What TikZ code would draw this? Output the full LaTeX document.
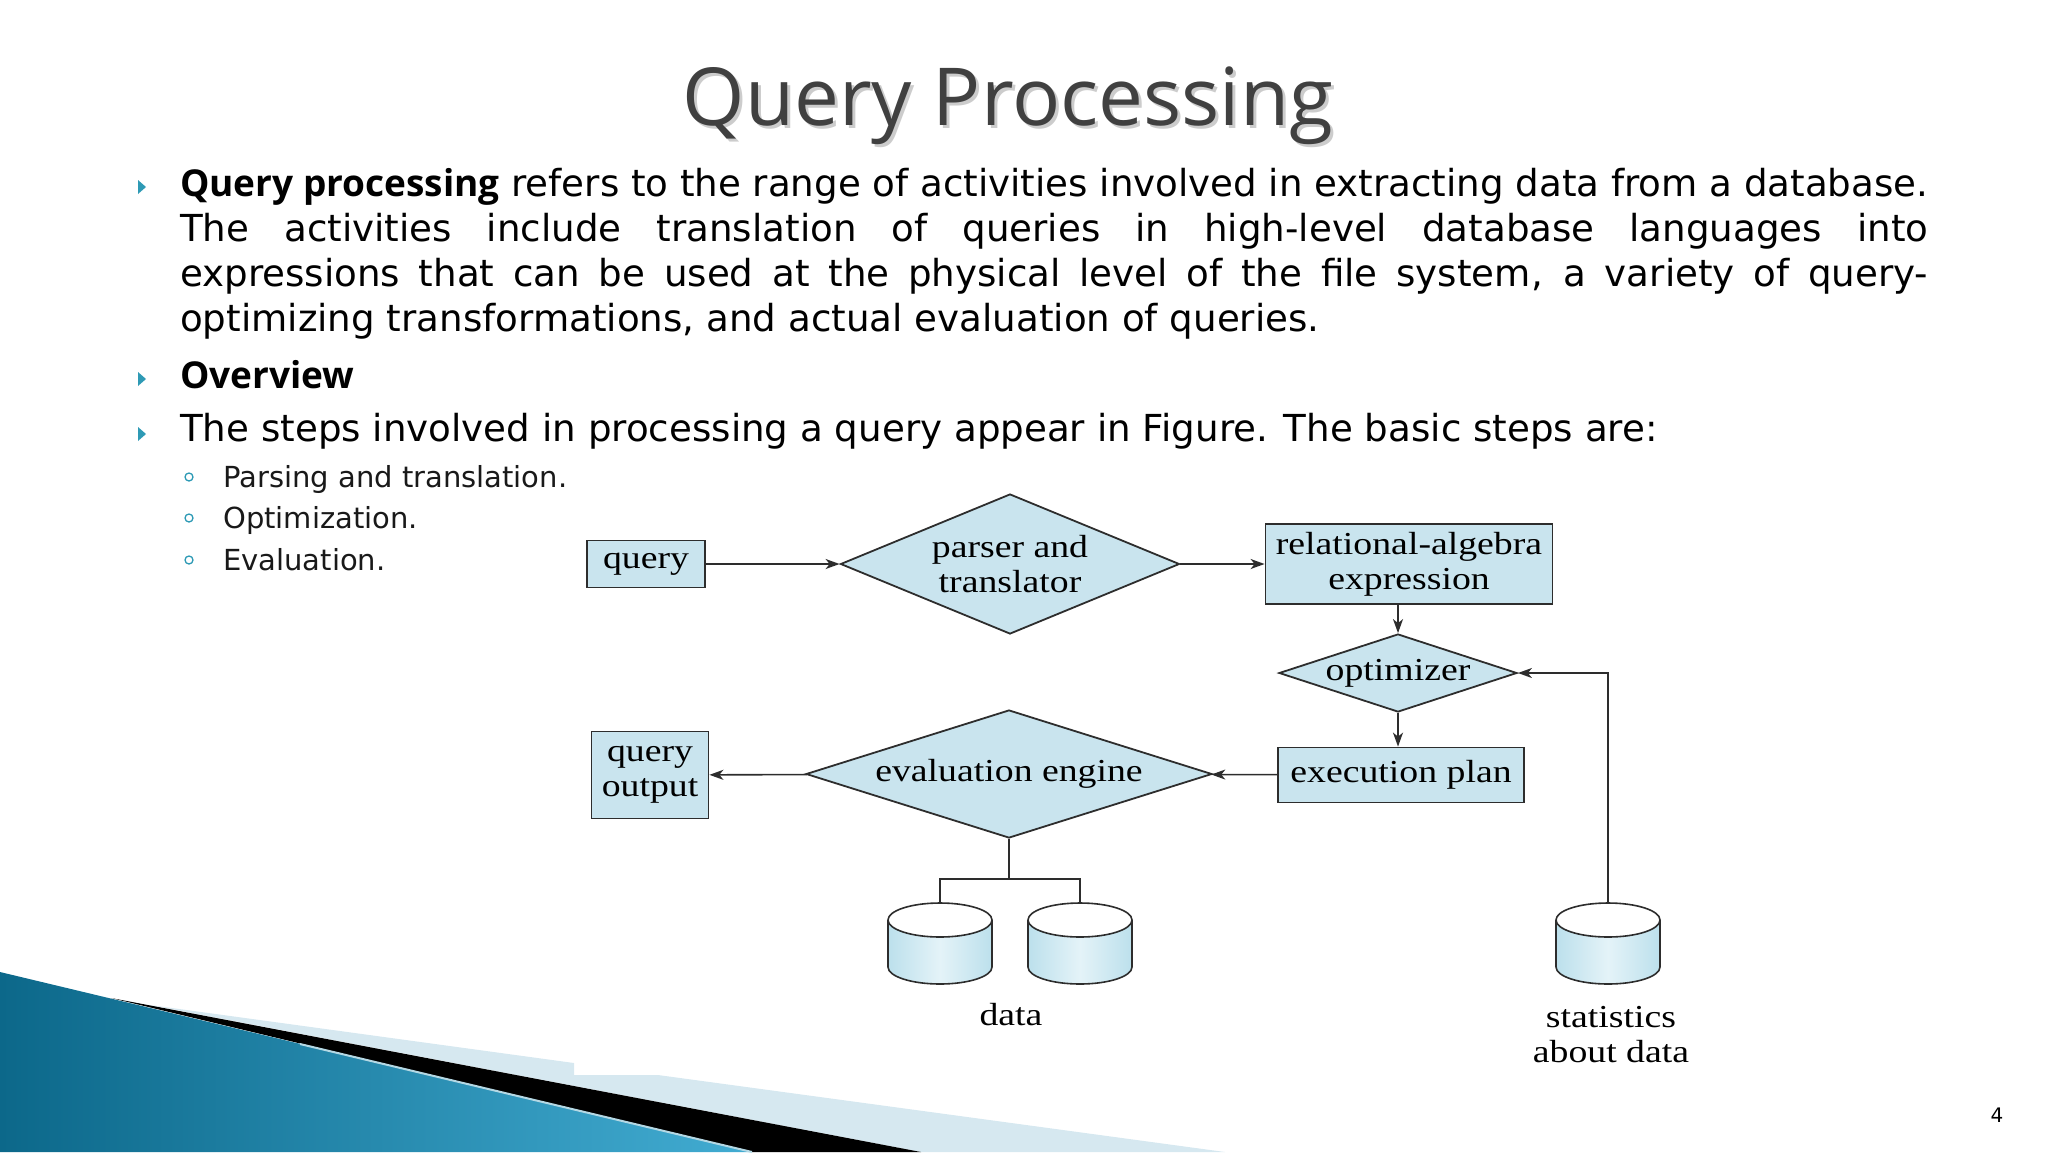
\documentclass[tikz,border=0pt]{standalone}
\usepackage{fontspec}
\setmainfont{DejaVu Sans}
\newfontfamily\titlefont{Open Sans}
\newfontfamily\keyfont{Open Sans}
\newfontfamily\figfont[FakeStretch=1.18]{Liberation Serif}
\usetikzlibrary{arrows.meta,shapes.geometric}
\definecolor{boxfill}{RGB}{201,228,238}
\definecolor{cylside}{RGB}{188,224,236}
\definecolor{cylmid}{RGB}{228,243,248}
\definecolor{edgecol}{RGB}{45,45,45}
\definecolor{bulletcol}{RGB}{46,154,181}
\definecolor{swooshdark}{RGB}{12,104,138}
\definecolor{swooshlight}{RGB}{66,172,210}
\definecolor{bandcol}{RGB}{214,232,240}
\definecolor{titlecol}{RGB}{64,64,64}
\tikzset{
  every node/.style={inner sep=0pt},
  figtext/.style={font=\figfont\fontsize{32}{35}\selectfont, align=center},
  procbox/.style={figtext, draw=edgecol, line width=1.8pt, fill=boxfill},
  procdia/.style={figtext, diamond, draw=edgecol, line width=1.8pt, fill=boxfill},
  flow/.style={->, line width=1.6pt, draw=edgecol},
  link/.style={line width=1.6pt, draw=edgecol},
  bodyline/.style={anchor=base west, font=\fontsize{37.2}{45}\selectfont},
  subline/.style={anchor=base west, font=\fontsize{29}{34}\selectfont, text=black!90},
}
% Disk drum: centre x, top y (picture units).
\newcommand{\dbdrum}[2]{%
  \shade[left color=cylside, right color=cylside, middle color=cylmid]
    (#1-52,#2+17) -- (#1-52,#2+64)
    arc[start angle=180, end angle=360, x radius=52pt, y radius=17pt]
    -- (#1+52,#2+17) -- cycle;
  \draw[edgecol, line width=1.6pt] (#1-52,#2+17) -- (#1-52,#2+64)
    arc[start angle=180, end angle=360, x radius=52pt, y radius=17pt]
    -- (#1+52,#2+17);
  \draw[edgecol, line width=1.6pt, fill=white]
    (#1,#2+17) ellipse[x radius=52pt, y radius=17pt];
}

\begin{document}
\begin{tikzpicture}[x=1pt, y=-1pt, >={Stealth[length=14pt,width=10pt,inset=4pt]}]

  \useasboundingbox (0,0) rectangle (2048,1152);

  % Bottom-left swoosh.
  \fill[bandcol] (150,1005) -- (574,1063) -- (574,1075) -- (658,1075)
    -- (1225,1152) -- (921,1152) -- cycle;
  \fill[black] (111,998) -- (921,1152) -- (752,1152) -- cycle;
  \shade[left color=swooshdark, right color=swooshlight]
    (0,972) -- (752,1152) -- (0,1152) -- cycle;
  \draw[bandcol!80!bulletcol, line width=2pt] (300,1044) -- (752,1152);

  % Title.
  \node[anchor=base, font=\titlefont\fontsize{80}{94}\selectfont, text=gray!40]
    (titleshadow) at (1011,128) {Query Processing};
  \node[anchor=base, font=\titlefont\fontsize{80}{94}\selectfont, text=titlecol]
    (title) at (1008,125) {Query Processing};

  % Bullets.
  \foreach \y in {187,379,434} {
    \fill[bulletcol] (138,\y-7) -- (146,\y) -- (138,\y+7) -- cycle;
  }
  \foreach \y in {477,518,560} {
    \draw[bulletcol, line width=1.3pt] (189,\y) circle (4pt);
  }

  % Body text.
  \node[bodyline] (line1) at (180,196) {\makebox[1748pt][s]{{\keyfont\bfseries\fontsize{37}{45}\selectfont Query processing}
    refers to the range of activities involved in extracting data from a database.}};
  \node[bodyline] (line2) at (180,241) {\makebox[1748pt][s]{The activities include
    translation of queries in high-level database languages into}};
  \node[bodyline] (line3) at (180,286) {\makebox[1748pt][s]{expressions that can be used
    at the physical level of the file system, a variety of query-}};
  \node[bodyline] (line4) at (180,331) {optimizing transformations, and actual evaluation of queries.};
  \node[bodyline] (overview) at (180,388) {\keyfont\bfseries\fontsize{37}{45}\selectfont Overview};
  \node[bodyline] (steps) at (180,441) {The steps involved in processing a query appear
    in Figure. The basic steps are:};
  \node[subline] (sub1) at (223,487) {Parsing and translation.};
  \node[subline] (sub2) at (223,528) {Optimization.};
  \node[subline] (sub3) at (223,570) {Evaluation.};

  % Flow diagram.
  \node[procbox, minimum width=118, minimum height=47] (query) at (646,564) {query};
  \node[procdia, aspect=2.4, minimum width=339, minimum height=140]
    (parser) at (1010,564) {parser and\\translator};
  \node[procbox, minimum width=287, minimum height=80]
    (relalg) at (1409,564) {relational-algebra\\expression};
  \node[procdia, aspect=3, minimum width=238, minimum height=78]
    (opt) at (1398,673) {optimizer};
  \node[procbox, minimum width=246, minimum height=55]
    (plan) at (1401,775) {execution plan};
  \node[procdia, aspect=3.2, minimum width=406, minimum height=128]
    (eval) at (1009,774) {evaluation engine};
  \node[procbox, minimum width=117, minimum height=87]
    (qout) at (650,775) {query\\output};

  % Storage.
  \dbdrum{940}{903}
  \dbdrum{1080}{903}
  \dbdrum{1608}{903}
  \coordinate (dataA) at (940,903);
  \coordinate (dataB) at (1080,903);
  \coordinate (stats) at (1608,903);
  \node[figtext, anchor=base] (datalabel) at (1011,1025) {data};
  \node[figtext, anchor=base] (statslabel) at (1611,1062) {statistics\\about data};

  % Connectors.
  \draw[flow] (query) -- (parser);
  \draw[flow] (parser) -- (relalg);
  \draw[flow] (opt.north |- relalg.south) -- (opt.north);
  \draw[flow] (opt.south) -- (opt.south |- plan.north);
  \draw[flow] (plan) -- (eval);
  \draw[flow] (eval) -- (qout);
  \coordinate (split) at (1009,879);
  \draw[link] (eval.south) -- (split);
  \draw[link] (dataA) |- (split) -| (dataB);
  \draw[flow] (stats) |- (opt.east);

  % Page number.
  \node[font=\fontsize{20}{24}\selectfont] (pagenum) at (1997,1115) {4};

\end{tikzpicture}
\end{document}
